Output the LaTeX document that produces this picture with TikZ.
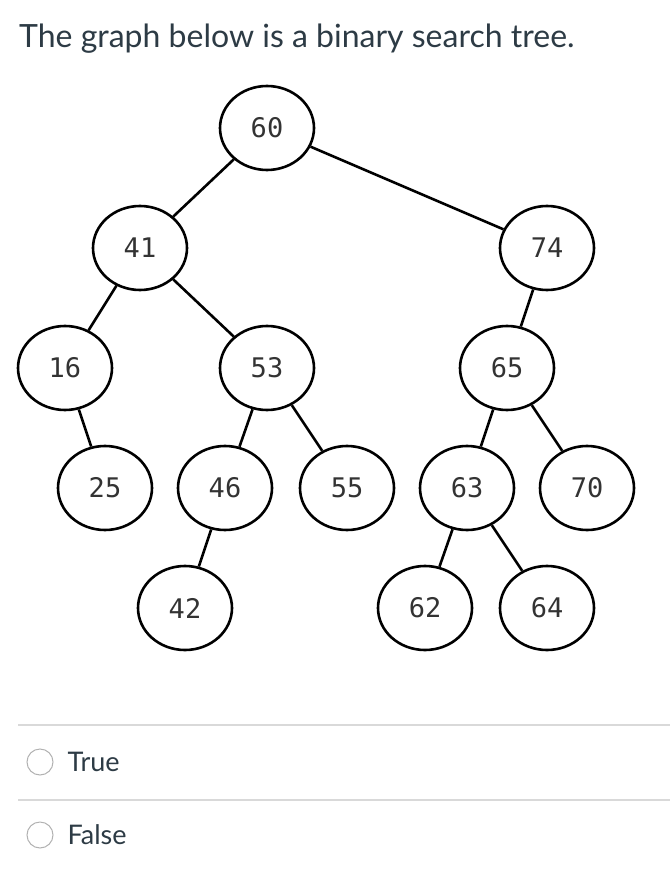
\documentclass[tikz,border=0pt]{standalone}
\usepackage{fontspec}
\setmainfont{Lato}
\newfontfamily\nodefont{DejaVu Sans Mono}
\usetikzlibrary{shapes.geometric}
\definecolor{txt}{HTML}{2D3B45}
\begin{document}
\begin{tikzpicture}[x=1pt,y=-1pt,
  bst/.style={ellipse,draw,line width=2.6pt,minimum width=94pt,minimum height=84pt,inner sep=0pt,font=\nodefont\fontsize{27}{27}\selectfont,text=black!80},
  edge/.style={line width=2.6pt},
  sep/.style={draw=gray!30,line width=1.2pt},
  radio/.style={circle,draw=gray!60,line width=1pt,minimum size=26pt,inner sep=0pt}]
\useasboundingbox (0,0) rectangle (670,882);
\node[anchor=base west,font=\fontsize{32}{32}\selectfont,text=txt,inner sep=0pt] (title) at (19,48) {The graph below is a binary search tree.};
\node[bst] (n60) at (267,128) {60};
\node[bst] (n41) at (140,248) {41};
\node[bst] (n74) at (547,248) {74};
\node[bst] (n16) at (65,368) {16};
\node[bst] (n53) at (267,368) {53};
\node[bst] (n65) at (507,368) {65};
\node[bst] (n25) at (105,488) {25};
\node[bst] (n46) at (225,488) {46};
\node[bst] (n55) at (347,488) {55};
\node[bst] (n63) at (467,488) {63};
\node[bst] (n70) at (587,488) {70};
\node[bst] (n42) at (185,608) {42};
\node[bst] (n62) at (425,608) {62};
\node[bst] (n64) at (547,608) {64};
\foreach \a/\b in {n60/n41,n60/n74,n41/n16,n41/n53,n74/n65,n16/n25,n53/n46,n53/n55,n65/n63,n65/n70,n46/n42,n63/n62,n63/n64}
  \draw[edge] (\a) -- (\b);
\coordinate (l1a) at (18,725); \coordinate (l1b) at (670,725);
\coordinate (l2a) at (18,800); \coordinate (l2b) at (670,800);
\draw[sep] (l1a) -- (l1b);
\draw[sep] (l2a) -- (l2b);
\node[radio] (r1) at (40,762) {};
\node[radio] (r2) at (40,835) {};
\node[anchor=west,font=\fontsize{27}{27}\selectfont,text=txt] (t) at (64,762) {True};
\node[anchor=west,font=\fontsize{27}{27}\selectfont,text=txt] (f) at (64,835) {False};
\end{tikzpicture}
\end{document}
